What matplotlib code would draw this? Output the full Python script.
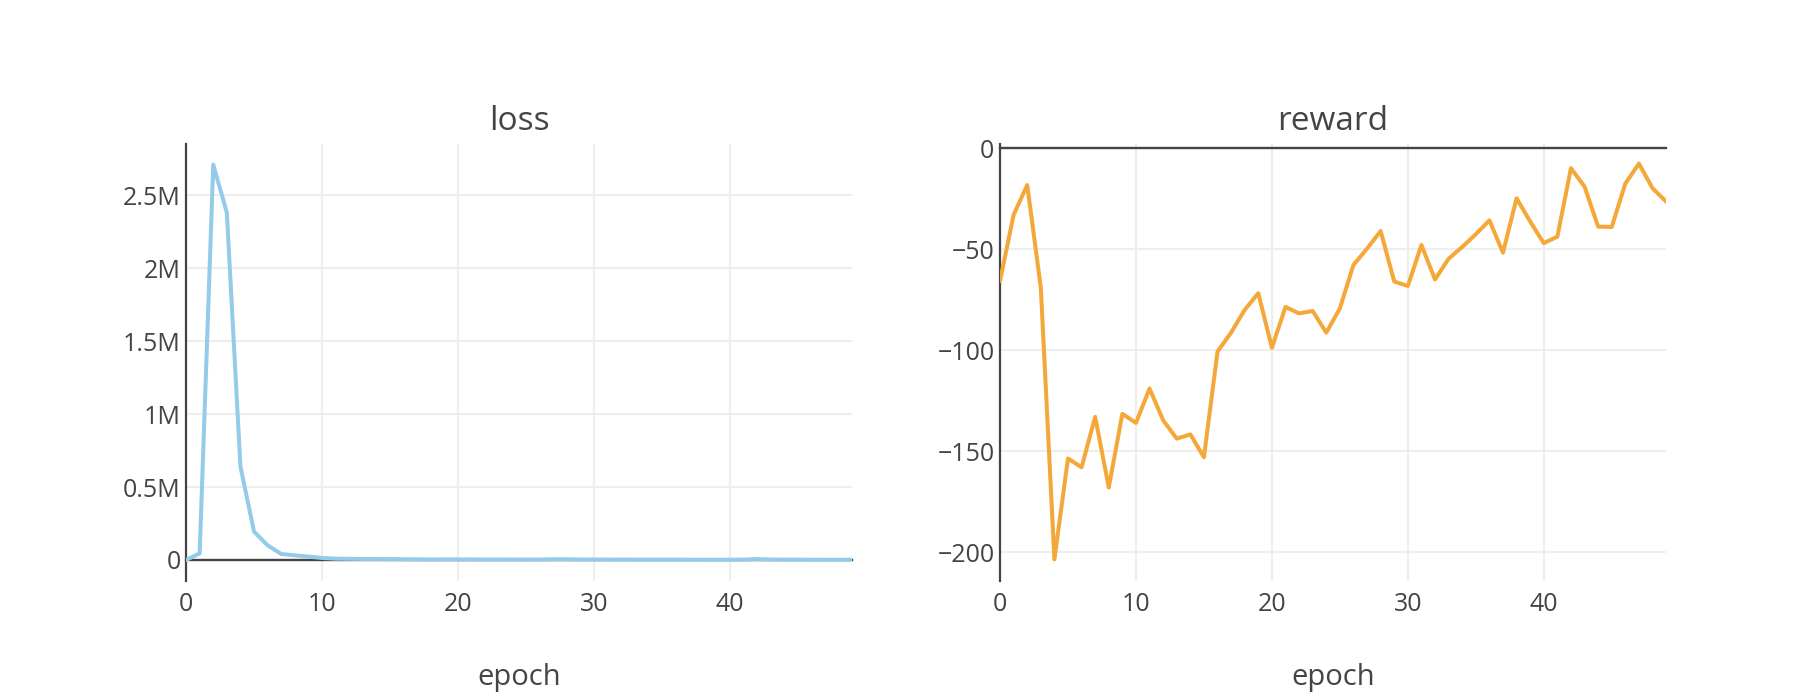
import numpy as np
import matplotlib
matplotlib.use('Agg')
import matplotlib.pyplot as plt

plt.rcParams['font.family'] = ['Open Sans', 'DejaVu Sans']

epochs = list(range(50))
loss = [0, 46000, 2710000, 2380000, 640000, 195000, 100000, 41000, 32000, 23000,
        14000, 9000, 8000, 7000, 6500, 6000, 5000, 4500, 3500, 4000,
        4000, 3800, 3500, 3300, 3000, 2800, 3000, 5000, 5000, 3500,
        3000, 2800, 2600, 2500, 2400, 2300, 2200, 2100, 2000, 2000,
        2000, 2500, 6000, 3500, 2500, 2200, 2000, 1900, 1800, 1700]
reward = [-65.7, -33, -18.2, -69, -203.6, -153.6, -158, -133, -168, -131.5,
          -136, -119, -134.7, -143.8, -141.7, -153, -100.7, -91.3, -80, -71.8,
          -98.8, -78.6, -81.8, -80.6, -91.3, -79.3, -57.8, -49.7, -41, -66,
          -68.2, -47.9, -65, -54.7, -48.9, -42.6, -35.7, -51.7, -24.8, -36.3,
          -47, -43.8, -9.9, -19, -38.8, -39, -17.5, -7.6, -19.8, -26.4]

loss_ticks = [0, 500000, 1000000, 1500000, 2000000, 2500000]
loss_labels = ['0', '0.5M', '1M', '1.5M', '2M', '2.5M']
reward_ticks = [0, -50, -100, -150, -200]
x_ticks = [0, 10, 20, 30, 40]

txt = '#444444'
fig = plt.figure(figsize=(18.1, 7), dpi=100)
ax1 = fig.add_axes([0.1028, 0.17, 0.368, 0.624])
ax2 = fig.add_axes([0.5525, 0.17, 0.368, 0.624])


def style(ax, title):
    for s in ax.spines.values():
        s.set_visible(False)
    ax.set_xlim(0, 49)
    ax.set_xticks(x_ticks)
    ax.grid(True, color='#eeeeee', linewidth=1.5)
    ax.set_axisbelow(True)
    ax.tick_params(length=0, labelsize=18, colors=txt)
    ax.tick_params(axis='x', pad=8)
    ax.tick_params(axis='y', pad=4)
    ax.axhline(0, color=txt, linewidth=1.7, zorder=1.5, clip_on=False)
    ax.axvline(0, color=txt, linewidth=1.6, zorder=1.5, clip_on=False)
    ax.set_title(title, fontsize=24, color=txt, pad=10)
    ax.text(0.5, -0.222, 'epoch', transform=ax.transAxes, ha='center',
            va='center', fontsize=21, color=txt)


ax1.plot(epochs, loss, color='#93cbe8', linewidth=2.9, zorder=3)
ax1.set_ylim(-144000, 2850000)
ax1.set_yticks(loss_ticks)
ax1.set_yticklabels(loss_labels)
style(ax1, 'loss')

ax2.plot(epochs, reward, color='#f5a83a', linewidth=2.9, zorder=3)
ax2.set_ylim(-214.3, 2)
ax2.set_yticks(reward_ticks)
style(ax2, 'reward')

fig.savefig('out.png', dpi=100, facecolor='white')
